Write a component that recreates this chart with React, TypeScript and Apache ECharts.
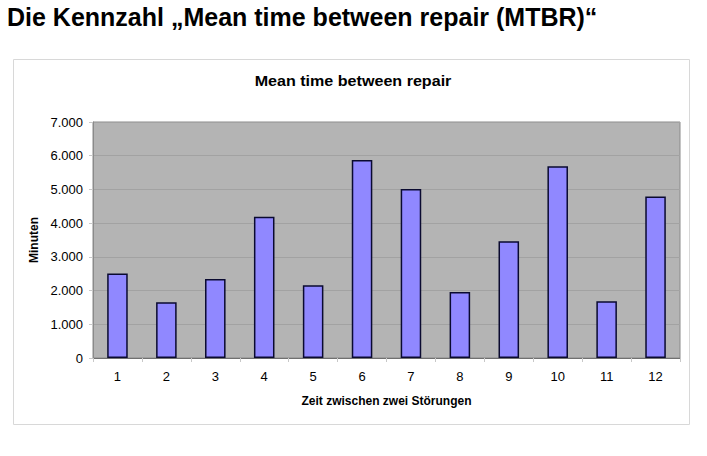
import React, { useEffect, useRef } from "react";
import * as echarts from "echarts";

const categories = ["1", "2", "3", "4", "5", "6", "7", "8", "9", "10", "11", "12"];
const mtbrValues = [2510, 1650, 2340, 4190, 2160, 5870, 5010, 1960, 3460, 5690, 1680, 4790];
const yTicks = { min: 0, max: 7000, interval: 1000 };

const pageTitle = "Die Kennzahl \u201EMean time between repair (MTBR)\u201C";
const chartTitle = "Mean time between repair";
const xName = "Zeit zwischen zwei St\u00F6rungen";
const yName = "Minuten";

const FONT = "'Liberation Sans', Arial, sans-serif";

export default function App() {
  const ref = useRef<HTMLDivElement>(null);
  useEffect(() => {
    document.body.style.margin = "0";
    const chart = echarts.init(ref.current!, null, { renderer: "svg" });
    chart.setOption({
      animation: false,
      backgroundColor: "#ffffff",
      textStyle: { fontFamily: FONT },
      graphic: [
        {
          type: "rect",
          shape: { x: 13.5, y: 59.5, width: 676, height: 365 },
          style: { fill: "none", stroke: "#d8d8d8", lineWidth: 1 },
          silent: true,
        },
        {
          type: "text",
          x: 7,
          y: 17,
          style: {
            text: pageTitle,
            fontFamily: FONT,
            fontSize: 25,
            fontWeight: "bold",
            fill: "#000",
            align: "left",
            verticalAlign: "middle",
          },
          silent: true,
        },
        {
          type: "text",
          x: 353,
          y: 81,
          scaleX: 1.15,
          style: {
            text: chartTitle,
            fontFamily: FONT,
            fontSize: 14,
            fontWeight: "bold",
            fill: "#000",
            align: "center",
            verticalAlign: "middle",
          },
          silent: true,
        },
      ],
      grid: {
        left: 93,
        right: 27,
        top: 122,
        bottom: 98,
        show: true,
        backgroundColor: "#b4b4b4",
        borderColor: "#8a8a8a",
        borderWidth: 1,
      },
      xAxis: {
        type: "category",
        data: categories,
        name: xName,
        nameLocation: "middle",
        nameGap: 37,
        nameTextStyle: { fontFamily: FONT, fontSize: 12, fontWeight: "bold", color: "#000" },
        axisLine: { lineStyle: { color: "#707070", width: 1 } },
        axisTick: { show: true, length: 4, lineStyle: { color: "#c8c8c8" } },
        axisLabel: { color: "#000", fontSize: 13, margin: 12, fontFamily: FONT },
        splitLine: { show: false },
      },
      yAxis: {
        type: "value",
        min: yTicks.min,
        max: yTicks.max,
        interval: yTicks.interval,
        name: yName,
        nameLocation: "middle",
        nameGap: 53,
        nameRotate: 90,
        nameTextStyle: { fontFamily: FONT, fontSize: 12, fontWeight: "bold", color: "#000" },
        axisLine: { show: true, lineStyle: { color: "#8a8a8a" } },
        axisTick: { show: true, length: 4, lineStyle: { color: "#c8c8c8" } },
        axisLabel: {
          color: "#000",
          fontSize: 13,
          margin: 10,
          fontFamily: FONT,
          formatter: (v: number) => String(v).replace(/\B(?=(\d{3})+(?!\d))/g, "."),
        },
        splitLine: { show: true, lineStyle: { color: "#a2a2a2", width: 1 } },
      },
      series: [
        {
          type: "bar",
          data: mtbrValues,
          barWidth: "42%",
          itemStyle: { color: "#9088ff", borderColor: "#0a0a30", borderWidth: 1.5 },
        },
      ],
    });
    return () => chart.dispose();
  }, []);
  return <div ref={ref} style={{ width: 707, height: 456 }} />;
}
